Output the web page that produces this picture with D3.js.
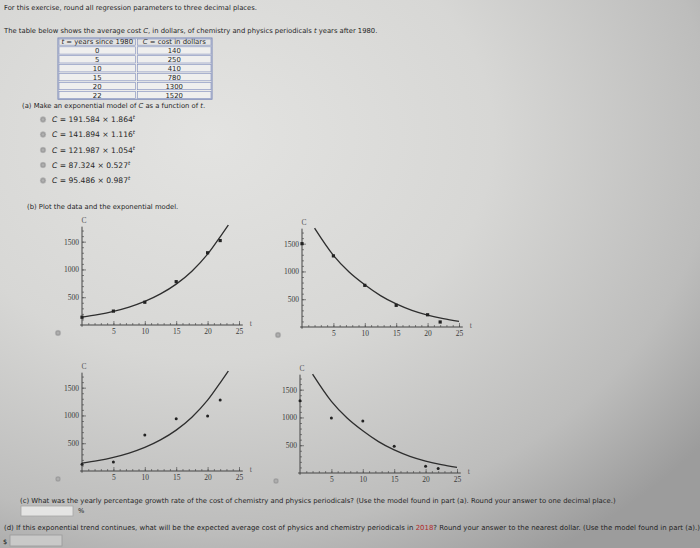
<!DOCTYPE html>
<html>
<head>
<meta charset="utf-8">
<script src="https://cdn.jsdelivr.net/npm/d3@7"></script>
<style>
  body { margin: 0; }
  svg { display: block; }
</style>
</head>
<body>
<div id="page"></div>
<script>
const WIDTH  = 700;
const HEIGHT = 548;

// table of the exercise
const tYears      = [0, 5, 10, 15, 20, 22];
const costDollars = [140, 250, 410, 780, 1300, 1520];

// answer choices of part (a): coefficient, base
const modelCoef = ["191.584", "141.894", "121.987", "87.324", "95.486"];
const modelBase = ["1.864", "1.116", "1.054", "0.527", "0.987"];

// points as drawn on the four answer plots (same t values as the table)
const plotA = [140, 250, 410, 780, 1300, 1520];
const plotB = [1500, 1280, 750, 390, 220, 90];
const plotC = [120, 160, 650, 940, 990, 1280];
const plotD = [1300, 990, 935, 480, 120, 80];

// model curves
const growT  = [0, 2.5, 5, 7.5, 10, 12.5, 15, 17.5, 20, 22, 23.3];
const growC  = [142, 187, 246, 323, 425, 560, 736, 969, 1275, 1588, 1800];
const decayT = [2, 5, 7.5, 10, 12.5, 15, 17.5, 20, 22.5, 25];
const decayC = [1780, 1290, 990, 760, 565, 415, 300, 215, 150, 100];

const xTicks = [5, 10, 15, 20, 25];
const yTicks = [500, 1000, 1500];

const SANS  = "DejaVu Sans, Verdana, sans-serif";
const SERIF = "Liberation Serif, Times New Roman, serif";
const INK   = "#262626";

var svg = d3.select("#page")
    .append("svg")
    .attr("width", WIDTH)
    .attr("height", HEIGHT);

// photographed screen: uneven grey light
var defs = svg.append("defs");
var bg = defs.append("radialGradient")
    .attr("id", "bg")
    .attr("cx", "30%").attr("cy", "25%").attr("r", "90%");
bg.append("stop").attr("offset", "0%").attr("stop-color", "#e3e3e1");
bg.append("stop").attr("offset", "45%").attr("stop-color", "#d7d7d5");
bg.append("stop").attr("offset", "80%").attr("stop-color", "#bdbdbc");
bg.append("stop").attr("offset", "100%").attr("stop-color", "#9c9c9c");

var radio = defs.append("radialGradient").attr("id", "radio");
radio.append("stop").attr("offset", "0%").attr("stop-color", "#b8b8b8");
radio.append("stop").attr("offset", "100%").attr("stop-color", "#8c8c8c");

svg.append("rect")
   .attr("width", WIDTH)
   .attr("height", HEIGHT)
   .attr("fill", "url(#bg)");

function textLine(x, y, size, parts, color) {
    var t = svg.append("text")
        .attr("x", x)
        .attr("y", y)
        .attr("font-family", SANS)
        .attr("font-size", size)
        .attr("fill", color || INK);
    parts.forEach(function(p) {
        if (typeof p === "string") {
            t.append("tspan").text(p);
        } else {
            var s = t.append("tspan").text(p.text);
            if (p.italic) s.attr("font-style", "italic");
            if (p.fill) s.attr("fill", p.fill);
        }
    });
    return t;
}

textLine(4, 10, 6.8, ["For this exercise, round all regression parameters to three decimal places."]);
textLine(4, 33, 6.8, ["The table below shows the average cost ", {text: "C", italic: true},
    ", in dollars, of chemistry and physics periodicals ", {text: "t", italic: true}, " years after 1980."]);

// data table
var tableX = 58, tableY = 38, colW = [78.5, 75.5], headH = 7.8, rowH = 8.9;
var table = svg.append("g");
var tableH = headH + rowH * tYears.length;
table.append("rect")
     .attr("x", tableX).attr("y", tableY)
     .attr("width", colW[0] + colW[1]).attr("height", tableH)
     .attr("fill", "#ebebea")
     .attr("stroke", "#6f7fb4").attr("stroke-width", 0.9);

var rows = [["t = years since 1980", "C = cost in dollars"]];
tYears.forEach(function(t, i) { rows.push([String(t), String(costDollars[i])]); });

rows.forEach(function(r, i) {
    var y0 = i === 0 ? tableY : tableY + headH + (i - 1) * rowH;
    var h = i === 0 ? headH : rowH;
    [0, 1].forEach(function(c) {
        var x0 = tableX + (c === 0 ? 0 : colW[0]);
        table.append("rect")
             .attr("x", x0 + 1).attr("y", y0 + 1)
             .attr("width", colW[c] - 2).attr("height", h - 1.6)
             .attr("fill", i === 0 ? "#e4e4e3" : "#efefee")
             .attr("stroke", "#7d8bbb").attr("stroke-width", 0.6);
        var txt = table.append("text")
             .attr("x", x0 + colW[c] / 2)
             .attr("y", y0 + h - 1.5)
             .attr("text-anchor", "middle")
             .attr("font-family", SANS)
             .attr("font-size", 6.9)
             .attr("fill", INK);
        if (i === 0) {
            var label = r[c];
            txt.append("tspan").attr("font-style", "italic").text(label.charAt(0));
            txt.append("tspan").text(label.slice(1));
        } else {
            txt.text(r[c]);
        }
    });
});

textLine(22, 108, 6.8, ["(a) Make an exponential model of ", {text: "C", italic: true},
    " as a function of ", {text: "t", italic: true}, "."]);

// answer choices
var optY = [122, 137, 152.5, 167.5, 183];
modelCoef.forEach(function(coef, i) {
    svg.append("circle")
       .attr("cx", 43).attr("cy", optY[i] - 2.5)
       .attr("r", 2.9)
       .attr("fill", "url(#radio)")
       .attr("stroke", "#c9c9c9").attr("stroke-width", 0.6);
    var t = svg.append("text")
        .attr("x", 52).attr("y", optY[i])
        .attr("font-family", SANS)
        .attr("font-size", 7.6)
        .attr("fill", INK);
    t.append("tspan").attr("font-style", "italic").text("C");
    t.append("tspan").text(" = " + coef + " \u00d7 " + modelBase[i]);
    t.append("tspan").attr("font-style", "italic").attr("font-size", 5.4)
     .attr("dy", -3).text("t");
});

textLine(27, 209, 6.8, ["(b) Plot the data and the exponential model."]);

// four answer plots
var charts = [
    {x0: 82,  y0: 325, data: plotA, ct: growT,  cc: growC,  mark: "square"},
    {x0: 302, y0: 327, data: plotB, ct: decayT, cc: decayC, mark: "square"},
    {x0: 82,  y0: 471, data: plotC, ct: growT,  cc: growC,  mark: "dot"},
    {x0: 300, y0: 473, data: plotD, ct: decayT, cc: decayC, mark: "dot"}
];

function drawChart(c) {
    var g = svg.append("g");
    var x = d3.scaleLinear().domain([0, 25]).range([c.x0, c.x0 + 157]);
    var y = d3.scaleLinear().domain([0, 1800]).range([c.y0, c.y0 - 100]);

    // minor ticks
    g.append("g")
     .attr("transform", "translate(" + c.x0 + ",0)")
     .call(d3.axisLeft(y).tickValues(d3.range(100, 1800, 100)).tickSize(-2)
             .tickFormat("").tickSizeOuter(0))
     .call(function(a) { a.select(".domain").remove(); });
    g.append("g")
     .attr("transform", "translate(0," + c.y0 + ")")
     .call(d3.axisBottom(x).tickValues(d3.range(1, 26, 1)).tickSize(-2)
             .tickFormat("").tickSizeOuter(0))
     .call(function(a) { a.select(".domain").remove(); });

    // major ticks and labels
    var ya = g.append("g")
     .attr("transform", "translate(" + c.x0 + ",0)")
     .call(d3.axisLeft(y).tickValues(yTicks).tickSize(-4).tickPadding(3)
             .tickFormat(d3.format("d")));
    ya.select(".domain").remove();
    var xa = g.append("g")
     .attr("transform", "translate(0," + c.y0 + ")")
     .call(d3.axisBottom(x).tickValues(xTicks).tickSize(-4).tickPadding(4)
             .tickFormat(d3.format("d")));
    xa.select(".domain").remove();

    g.selectAll(".tick line").attr("stroke", "#555").attr("stroke-width", 0.7);
    g.selectAll(".tick text")
     .attr("font-family", SERIF)
     .attr("font-size", 7.5)
     .attr("fill", "#3a3a3a");

    // axis lines
    g.append("line")
     .attr("x1", c.x0).attr("x2", c.x0)
     .attr("y1", y(-30)).attr("y2", y(1770))
     .attr("stroke", "#444").attr("stroke-width", 1);
    g.append("line")
     .attr("x1", x(-0.3)).attr("x2", x(25.6))
     .attr("y1", c.y0).attr("y2", c.y0)
     .attr("stroke", "#444").attr("stroke-width", 1);

    g.append("text")
     .attr("x", c.x0 + 2).attr("y", y(1770) - 4)
     .attr("text-anchor", "middle")
     .attr("font-family", SERIF).attr("font-size", 7.5).attr("fill", "#555")
     .text("C");
    g.append("text")
     .attr("x", x(26.7)).attr("y", c.y0 + 1)
     .attr("font-family", SERIF).attr("font-size", 7.5).attr("fill", "#555")
     .text("t");

    // model curve
    var pts = c.ct.map(function(t, i) { return [t, c.cc[i]]; });
    g.append("path")
     .datum(pts)
     .attr("fill", "none")
     .attr("stroke", "#2e2e2e")
     .attr("stroke-width", 1.3)
     .attr("d", d3.line()
         .x(function(d) { return x(d[0]); })
         .y(function(d) { return y(d[1]); })
         .curve(d3.curveMonotoneX));

    // data points
    var dots = tYears.map(function(t, i) { return [t, c.data[i]]; });
    if (c.mark === "square") {
        g.selectAll(".pt")
         .data(dots).enter()
         .append("rect")
         .attr("x", function(d) { return x(d[0]) - 1.6; })
         .attr("y", function(d) { return y(d[1]) - 1.6; })
         .attr("width", 3.2).attr("height", 3.2)
         .attr("fill", "#222");
    } else {
        g.selectAll(".pt")
         .data(dots).enter()
         .append("circle")
         .attr("cx", function(d) { return x(d[0]); })
         .attr("cy", function(d) { return y(d[1]); })
         .attr("r", 1.5)
         .attr("fill", "#222");
    }

    // radio button for the choice
    svg.append("circle")
       .attr("cx", c.x0 - 24).attr("cy", c.y0 + 8)
       .attr("r", 2.9)
       .attr("fill", "url(#radio)")
       .attr("stroke", "#c9c9c9").attr("stroke-width", 0.6);
}

charts.forEach(drawChart);

// parts (c) and (d)
textLine(20, 503, 6.85, ["(c) What was the yearly percentage growth rate of the cost of chemistry and physics periodicals? (Use the model found in part (a). Round your answer to one decimal place.)"]);
svg.append("rect")
   .attr("x", 21).attr("y", 506).attr("width", 52).attr("height", 10)
   .attr("fill", "#e4e4e3").attr("stroke", "#a6a6a6").attr("stroke-width", 0.8);
textLine(78, 513, 6.6, ["%"]);

textLine(4, 530, 6.95, ["(d) If this exponential trend continues, what will be the expected average cost of physics and chemistry periodicals in ",
    {text: "2018", fill: "#b02a2a"},
    "? Round your answer to the nearest dollar. (Use the model found in part (a).)"]);
textLine(3, 544, 6.6, ["$"]);
svg.append("rect")
   .attr("x", 10).attr("y", 535).attr("width", 52).attr("height", 11)
   .attr("fill", "#c9c9c8").attr("stroke", "#9a9a9a").attr("stroke-width", 0.8);
</script>
</body>
</html>
